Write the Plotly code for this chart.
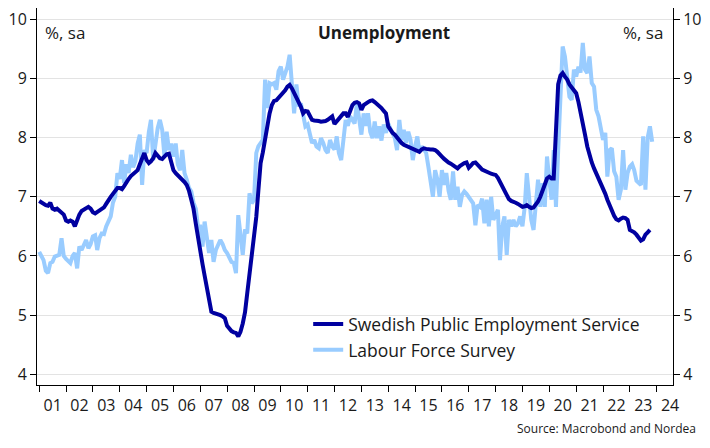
import pandas as pd
import plotly.graph_objects as go

# Swedish Public Employment Service, %, sa (monthly, Jan 2001 - Oct 2023)
pes_rate = [
    6.93, 6.90, 6.88, 6.86, 6.85, 6.90, 6.80, 6.78, 6.80, 6.77, 6.75, 6.70,  # 2001
    6.60, 6.58, 6.60, 6.58, 6.50, 6.62, 6.70, 6.76, 6.79, 6.82, 6.83, 6.80,  # 2002
    6.74, 6.72, 6.74, 6.76, 6.79, 6.82, 6.88, 6.95, 7.00, 7.05, 7.10, 7.15,  # 2003
    7.15, 7.13, 7.18, 7.25, 7.30, 7.35, 7.38, 7.40, 7.45, 7.55, 7.65, 7.74,  # 2004
    7.62, 7.57, 7.60, 7.65, 7.74, 7.70, 7.65, 7.64, 7.68, 7.72, 7.73, 7.60,  # 2005
    7.45, 7.40, 7.37, 7.33, 7.29, 7.25, 7.20, 7.10, 6.95, 6.80, 6.55, 6.30,  # 2006
    6.05, 5.86, 5.67, 5.48, 5.29, 5.06, 5.04, 5.03, 5.02, 5.00, 4.98, 4.95,  # 2007
    4.82, 4.76, 4.73, 4.71, 4.70, 4.64, 4.72, 4.86, 5.05, 5.37, 5.68, 5.99,  # 2008
    6.35, 6.66, 7.10, 7.57, 7.75, 8.00, 8.20, 8.41, 8.55, 8.62, 8.63, 8.67,  # 2009
    8.70, 8.75, 8.80, 8.86, 8.89, 8.83, 8.75, 8.70, 8.61, 8.52, 8.41, 8.45,  # 2010
    8.44, 8.35, 8.30, 8.29, 8.29, 8.28, 8.27, 8.27, 8.28, 8.30, 8.33, 8.36,  # 2011
    8.23, 8.28, 8.33, 8.36, 8.41, 8.41, 8.35, 8.45, 8.55, 8.59, 8.60, 8.58,  # 2012
    8.47, 8.55, 8.58, 8.60, 8.62, 8.63, 8.60, 8.57, 8.55, 8.50, 8.45, 8.41,  # 2013
    8.19, 8.12, 8.08, 8.05, 8.00, 7.95, 7.91, 7.88, 7.86, 7.85, 7.82, 7.80,  # 2014
    7.78, 7.76, 7.76, 7.80, 7.82, 7.81, 7.80, 7.80, 7.80, 7.79, 7.76, 7.71,  # 2015
    7.68, 7.64, 7.60, 7.58, 7.56, 7.53, 7.50, 7.48, 7.52, 7.55, 7.57, 7.58,  # 2016
    7.49, 7.53, 7.57, 7.58, 7.55, 7.50, 7.46, 7.44, 7.43, 7.40, 7.39, 7.38,  # 2017
    7.37, 7.32, 7.25, 7.18, 7.10, 7.00, 6.96, 6.93, 6.92, 6.90, 6.88, 6.86,  # 2018
    6.83, 6.84, 6.86, 6.83, 6.81, 6.82, 6.86, 6.92, 7.00, 7.10, 7.20, 7.31,  # 2019
    7.34, 7.31, 7.31, 8.13, 8.90, 9.05, 9.09, 9.03, 8.98, 8.90, 8.84, 8.78,  # 2020
    8.75, 8.60, 8.45, 8.25, 8.05, 7.85, 7.70, 7.58, 7.48, 7.40, 7.30, 7.20,  # 2021
    7.12, 7.05, 6.95, 6.85, 6.75, 6.68, 6.62, 6.60, 6.63, 6.65, 6.64, 6.61,  # 2022
    6.44, 6.42, 6.40, 6.36, 6.30, 6.26, 6.28, 6.36, 6.40, 6.44,              # 2023
]

# Labour Force Survey, %, sa (monthly, Jan 2001 - Nov 2023)
lfs_rate = [
    6.07, 6.00, 5.93, 5.75, 5.71, 5.88, 5.90, 5.99, 6.00, 6.02, 6.30, 6.00,  # 2001
    5.95, 5.90, 5.88, 6.00, 6.05, 5.79, 6.16, 6.10, 6.20, 6.27, 6.13, 6.20,  # 2002
    6.33, 6.35, 6.10, 6.30, 6.38, 6.37, 6.50, 6.60, 6.67, 6.90, 7.00, 7.40,  # 2003
    7.30, 7.62, 7.23, 7.55, 7.40, 7.71, 7.50, 7.60, 7.90, 8.05, 7.20, 7.79,  # 2004
    7.74, 8.10, 8.30, 7.62, 7.90, 8.16, 8.30, 8.13, 7.68, 8.10, 7.79, 7.90,  # 2005
    7.68, 7.90, 7.55, 7.45, 7.79, 7.40, 7.29, 7.15, 7.09, 6.90, 6.80, 6.50,  # 2006
    6.50, 6.16, 6.58, 6.30, 6.05, 6.27, 5.90, 6.10, 6.20, 6.27, 6.20, 6.10,  # 2007
    6.05, 5.95, 5.90, 5.88, 5.71, 6.69, 6.33, 6.02, 6.45, 6.38, 7.06, 6.89,  # 2008
    6.95, 7.74, 7.85, 7.91, 7.96, 8.98, 8.50, 8.92, 8.90, 8.92, 8.81, 9.12,  # 2009
    9.20, 8.98, 9.09, 9.20, 9.40, 8.81, 8.41, 8.90, 8.53, 8.58, 8.35, 8.19,  # 2010
    8.22, 8.02, 7.91, 7.96, 7.85, 7.82, 7.99, 7.91, 7.79, 7.74, 7.96, 7.85,  # 2011
    7.80, 8.02, 7.74, 7.62, 8.02, 8.30, 8.20, 8.36, 8.30, 8.24, 8.58, 8.36,  # 2012
    8.05, 8.41, 8.20, 8.41, 8.10, 7.99, 8.27, 7.99, 8.19, 7.95, 8.22, 8.08,  # 2013
    8.24, 8.15, 8.08, 7.99, 7.79, 8.30, 7.96, 8.13, 7.91, 8.10, 7.96, 7.62,  # 2014
    7.85, 8.02, 7.76, 7.85, 7.80, 7.74, 7.51, 7.23, 7.00, 7.45, 7.29, 7.00,  # 2015
    7.45, 7.20, 7.40, 7.10, 6.95, 7.43, 6.95, 7.17, 6.83, 7.03, 7.09, 7.05,  # 2016
    7.00, 6.95, 6.89, 6.52, 6.86, 6.83, 6.97, 6.55, 6.95, 6.50, 7.00, 6.61,  # 2017
    6.70, 6.78, 5.93, 6.50, 6.67, 6.02, 6.61, 6.50, 6.61, 6.50, 6.55, 6.67,  # 2018
    6.50, 6.83, 7.40, 7.00, 6.61, 6.44, 6.90, 7.29, 6.83, 7.23, 6.83, 7.68,  # 2019
    7.29, 6.95, 7.79, 6.83, 7.79, 8.69, 9.54, 9.37, 8.98, 8.69, 8.64, 9.15,  # 2020
    9.03, 9.20, 9.10, 9.60, 9.15, 9.09, 9.37, 8.92, 8.86, 8.47, 8.36, 8.20,  # 2021
    7.96, 8.08, 7.34, 7.79, 7.82, 7.43, 7.34, 6.95, 7.12, 7.79, 7.12, 7.40,  # 2022
    7.51, 7.55, 7.45, 7.27, 7.23, 7.20, 8.02, 7.12, 8.00, 8.19, 7.93,        # 2023
]

series_names = ["Swedish Public Employment Service", "Labour Force Survey"]
series_colors = ["#0000A0", "#99CCFF"]
y_ticks = [4, 5, 6, 7, 8, 9, 10]

pes_dates = pd.date_range("2001-01-01", periods=len(pes_rate), freq="MS")
lfs_dates = pd.date_range("2001-01-01", periods=len(lfs_rate), freq="MS")

FONT = "Open Sans"
TXT = "#1a1a1a"

fig = go.Figure()
# dark series on overlay axis so it is drawn on top
fig.add_trace(go.Scatter(x=pes_dates, y=pes_rate, mode="lines", name=series_names[0],
                         line=dict(color=series_colors[0], width=4), yaxis="y2"))
fig.add_trace(go.Scatter(x=lfs_dates, y=lfs_rate, mode="lines", name=series_names[1],
                         line=dict(color=series_colors[1], width=4), yaxis="y"))

yr = [3.82, 10.19]
fig.update_layout(
    width=710, height=448,
    margin=dict(l=37, r=37, t=8, b=63),
    paper_bgcolor="white", plot_bgcolor="white",
    font=dict(family=FONT, size=16, color=TXT),
    showlegend=True,
    legend=dict(x=0.4264, y=0.209, xanchor="left", yanchor="top",
                bgcolor="rgba(0,0,0,0)", font=dict(size=17.5, color=TXT),
                tracegroupgap=0),
    xaxis=dict(type="date", range=["2000-12-02", "2024-08-10"],
               tick0="2001-01-01", dtick="M12", tickformat="%y",
               ticklabelmode="period", ticks="outside", ticklen=6,
               tickcolor="#000", showline=True, linecolor="#000", linewidth=1,
               showgrid=False, zeroline=False,
               tickfont=dict(size=16, color=TXT)),
    yaxis=dict(range=yr, tickvals=y_ticks, ticks="outside", ticklen=6,
               tickcolor="#000", showline=True, linecolor="#000", linewidth=1,
               showgrid=True, gridcolor="#e3e3e3", gridwidth=1, zeroline=False,
               tickfont=dict(size=16, color=TXT)),
    yaxis2=dict(range=yr, tickvals=y_ticks, overlaying="y", side="right",
                ticks="outside", ticklen=6, tickcolor="#000", showline=True,
                linecolor="#000", linewidth=1, showgrid=False, zeroline=False,
                tickfont=dict(size=16, color=TXT)),
)

fig.add_annotation(text="<b>Unemployment</b>", xref="paper", yref="paper",
                   x=0.546, y=0.935, xanchor="center", yanchor="middle",
                   showarrow=False, font=dict(size=17, color=TXT))
fig.add_annotation(text="%, sa", xref="paper", yref="paper",
                   x=0.01, y=0.935, xanchor="left", yanchor="middle",
                   showarrow=False, font=dict(size=17, color=TXT))
fig.add_annotation(text="%, sa", xref="paper", yref="paper",
                   x=0.988, y=0.935, xanchor="right", yanchor="middle",
                   showarrow=False, font=dict(size=17, color=TXT))
fig.add_annotation(text="Source: Macrobond and Nordea", xref="paper", yref="paper",
                   x=(698 - 37) / 636, y=-(429 - 385) / 377, xanchor="right",
                   yanchor="middle", showarrow=False,
                   font=dict(size=12, color=TXT))

fig.write_html("out.html")
